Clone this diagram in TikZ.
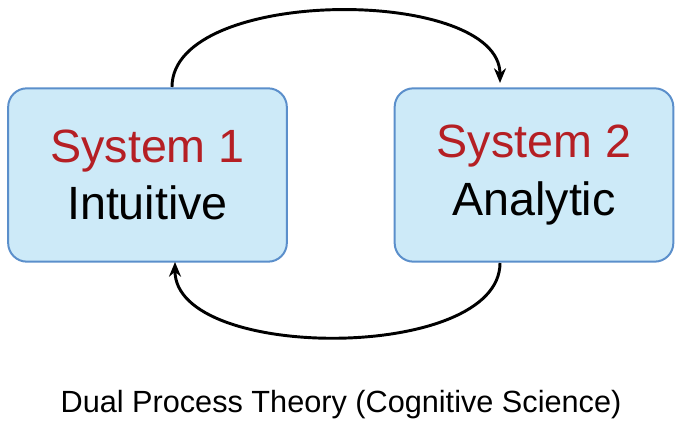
\documentclass[tikz,border=0pt]{standalone}
\usepackage{fontspec}
\setmainfont{Liberation Sans}
\usetikzlibrary{arrows.meta}
\definecolor{boxfill}{HTML}{CDEAF8}
\definecolor{boxline}{HTML}{5B8FCB}
\definecolor{sysred}{HTML}{B51F24}
\begin{document}
\begin{tikzpicture}[x=0.75pt,y=-0.75pt,
  box/.style={draw=boxline,line width=1.5pt,fill=boxfill,rounded corners=14pt,minimum width=209pt,minimum height=130pt,align=center,font=\fontsize{35}{43}\selectfont},
  arr/.style={line width=2.2pt,-{Stealth[length=11pt,width=9pt]}}]
\useasboundingbox (0,0) rectangle (687,427);
\node[box] (s1) at (147.5,175) {\textcolor{sysred}{System 1}\\Intuitive};
\node[box] (s2) at (534,175) {\textcolor{sysred}{System 2}\\Analytic};
\coordinate (a1) at (172,87);
\coordinate (a2) at (500,83);
\coordinate (b1) at (500,263);
\coordinate (b2) at (175,262);
\draw[arr] (a1) .. controls (172,-14) and (500,-14) .. (a2);
\draw[arr] (b1) .. controls (500,362) and (175,362) .. (b2);
\node[font=\fontsize{23}{27}\selectfont] (cap) at (341,405) {Dual Process Theory (Cognitive Science)};
\end{tikzpicture}
\end{document}
